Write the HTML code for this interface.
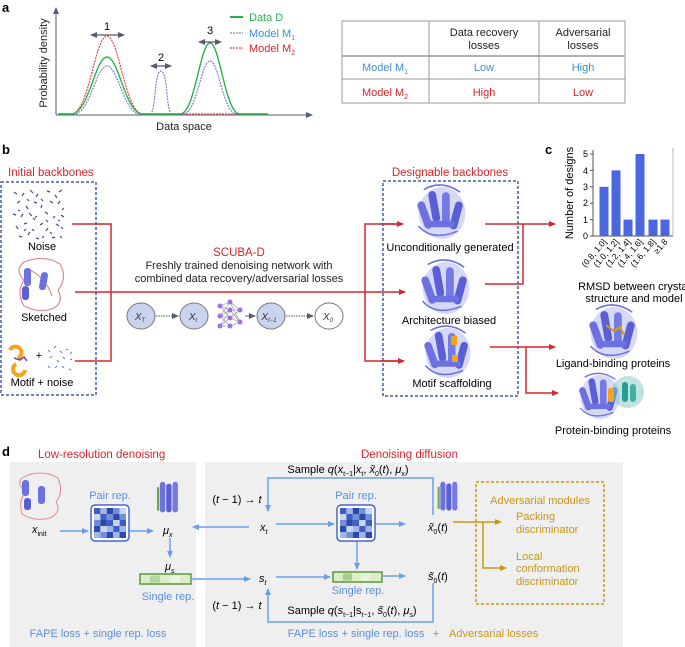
<!DOCTYPE html>
<html><head><meta charset="utf-8"><style>
html,body{margin:0;padding:0;background:#fff;}
svg{display:block;font-family:"Liberation Sans",sans-serif;}
</style></head><body>
<svg width="685" height="647" viewBox="0 0 685 647" xmlns="http://www.w3.org/2000/svg">
<defs>
<marker id="ar" markerWidth="8" markerHeight="8" refX="6" refY="3" orient="auto" markerUnits="userSpaceOnUse"><path d="M0,0 L7,3 L0,6 z" fill="#d7262b"/></marker>
<marker id="ab" markerWidth="8" markerHeight="8" refX="6" refY="3" orient="auto" markerUnits="userSpaceOnUse"><path d="M0,0 L7,3 L0,6 z" fill="#6c9fe8"/></marker>
<marker id="ag" markerWidth="8" markerHeight="8" refX="6" refY="3" orient="auto" markerUnits="userSpaceOnUse"><path d="M0,0 L7,3 L0,6 z" fill="#c9961a"/></marker>
<marker id="ak" markerWidth="8" markerHeight="8" refX="6" refY="3" orient="auto" markerUnits="userSpaceOnUse"><path d="M0,0 L7,3 L0,6 z" fill="#555d6e"/></marker>
<marker id="aks" markerWidth="8" markerHeight="8" refX="1" refY="3" orient="auto" markerUnits="userSpaceOnUse"><path d="M7,0 L0,3 L7,6 z" fill="#555d6e"/></marker>
<g id="prot">
<ellipse cx="0" cy="0" rx="18" ry="20" fill="#8a8ee8" opacity="0.35"/>
<rect x="-16" y="-14" width="6" height="22" rx="3" fill="#6d70e0" transform="rotate(-20)"/>
<rect x="-8" y="-18" width="6" height="24" rx="3" fill="#5b5fd6" transform="rotate(-10)"/>
<rect x="0" y="-16" width="6" height="26" rx="3" fill="#7579e6"/>
<rect x="8" y="-12" width="6" height="22" rx="3" fill="#5b5fd6" transform="rotate(15)"/>
<rect x="-12" y="6" width="22" height="5" rx="2.5" fill="#6d70e0"/>
<path d="M-18,10 q10,12 30,4 M-14,-18 q14,-8 28,2" stroke="#6d70e0" fill="none" stroke-width="1.2"/>
</g>
<g id="hel">
<rect x="-9" y="-18" width="6" height="34" rx="3" fill="#6d70e0"/>
<rect x="-2" y="-16" width="6" height="32" rx="3" fill="#5b5fd6"/>
<rect x="5" y="-18" width="6" height="34" rx="3" fill="#7579e6"/>
<path d="M-11,-12 L-11,14" stroke="#6aa84f" stroke-width="2.5"/>
</g>
</defs>

<!-- ===== Panel a ===== -->
<text x="2" y="12" font-size="13" font-weight="bold">a</text>
<line x1="56" y1="115" x2="56" y2="8" stroke="#555d6e" stroke-width="1" marker-end="url(#ak)"/>
<line x1="56" y1="115" x2="312" y2="115" stroke="#555d6e" stroke-width="1" marker-end="url(#ak)"/>
<text transform="translate(47,63) rotate(-90)" font-size="11" text-anchor="middle" fill="#222">Probability density</text>
<text x="184" y="130" font-size="11" text-anchor="middle" fill="#222">Data space</text>
<path d="M58,114 L71,114 C89,114 95,36 107,36 C119,36 125,114 143,114 L268,114" fill="none" stroke="#e0474c" stroke-width="1.2" stroke-dasharray="2,1"/>
<path d="M58,114 L74,114 C90,114 96,66 107,66 C118,66 124,114 140,114 C144,114 147,114 150,114 C156,114 154,71 161,71 C168,71 166,114 172,114 C178,114 182,114 183,114 C197,114 201,61 210,61 C219,61 223,114 237,114 L268,114" fill="none" stroke="#7a86c8" stroke-width="1.2" stroke-dasharray="2,1"/>
<path d="M58,114 L71,114 C89,114 95,57 107,57 C119,57 125,114 143,114 L180,114 C195,114 200,43 210,43 C220,43 225,114 240,114 L268,114" fill="none" stroke="#27b34b" stroke-width="1.4"/>
<g stroke="#555d6e" stroke-width="1.2">
<line x1="91" y1="35" x2="124" y2="35" marker-end="url(#ak)" marker-start="url(#aks)"/>
<line x1="151" y1="66" x2="171" y2="66" marker-end="url(#ak)" marker-start="url(#aks)"/>
<line x1="199" y1="42" x2="221" y2="42" marker-end="url(#ak)" marker-start="url(#aks)"/>
</g>
<text x="107" y="30" font-size="11" text-anchor="middle">1</text>
<text x="161" y="61" font-size="11" text-anchor="middle">2</text>
<text x="210" y="34" font-size="11" text-anchor="middle">3</text>
<line x1="230" y1="17" x2="243" y2="17" stroke="#27b34b" stroke-width="2"/>
<text x="249" y="21" font-size="11" fill="#27b34b">Data D</text>
<line x1="230" y1="33" x2="243" y2="33" stroke="#7a86c8" stroke-width="1.2" stroke-dasharray="2,1"/>
<text x="249" y="37" font-size="11" fill="#3b8fd6">Model M<tspan font-size="7" dy="3">1</tspan></text>
<line x1="230" y1="48" x2="243" y2="48" stroke="#e0474c" stroke-width="1.2" stroke-dasharray="2,1"/>
<text x="249" y="52" font-size="11" fill="#d7262b">Model M<tspan font-size="7" dy="3">2</tspan></text>
<g stroke="#999" stroke-width="1" fill="none">
<rect x="342" y="21" width="283" height="82"/>
<line x1="429" y1="21" x2="429" y2="103"/>
<line x1="539" y1="21" x2="539" y2="103"/>
<line x1="342" y1="56" x2="625" y2="56" stroke-width="1.6"/>
<line x1="342" y1="79" x2="625" y2="79"/>
</g>
<g font-size="11" text-anchor="middle">
<text x="484" y="36" fill="#222">Data recovery</text><text x="484" y="49" fill="#222">losses</text>
<text x="583" y="36" fill="#222">Adversarial</text><text x="583" y="49" fill="#222">losses</text>
<text x="385" y="71" fill="#3b8fd6">Model M<tspan font-size="7" dy="3">1</tspan></text>
<text x="484" y="71" fill="#3b8fd6">Low</text><text x="583" y="71" fill="#3b8fd6">High</text>
<text x="385" y="96" fill="#d7262b">Model M<tspan font-size="7" dy="3">2</tspan></text>
<text x="484" y="96" fill="#d7262b">High</text><text x="583" y="96" fill="#d7262b">Low</text>
</g>

<!-- ===== Panel b ===== -->
<text x="2" y="154" font-size="13" font-weight="bold">b</text>
<text x="8" y="176" font-size="11.5" fill="#d7262b">Initial backbones</text>
<rect x="1" y="182" width="95" height="213" fill="none" stroke="#3f5fa8" stroke-width="1.5" stroke-dasharray="3,2"/>
<g stroke="#3f4f8a" stroke-width="1.2">
<path d="M14,192 l3,2 M22,196 l2,-3 M30,190 l3,3 M38,194 l-2,3 M47,191 l3,1 M55,195 l2,3 M62,190 l-3,2 M17,203 l3,-2 M26,206 l2,3 M34,202 l3,1 M42,205 l-1,3 M50,201 l3,2 M58,204 l2,-3 M64,208 l-2,2 M13,214 l3,1 M21,217 l2,-3 M29,213 l3,3 M37,216 l-2,2 M45,212 l3,2 M53,218 l2,-2 M61,215 l3,2 M16,226 l2,3 M24,224 l3,-1 M32,229 l2,2 M40,225 l3,-2 M48,228 l-2,3 M56,224 l3,2 M63,229 l-2,-2 M19,236 l3,1 M28,235 l2,-3 M36,238 l3,1 M44,236 l-2,2 M52,238 l3,-1 M60,236 l2,2 M27,199 l2,2 M46,220 l2,2 M35,220 l-2,-2 M18,210 l2,1 M41,199 l2,2 M58,220 l2,1 M24,231 l2,-2 M50,232 l2,2"/>
</g>
<text x="42" y="250" font-size="11" text-anchor="middle">Noise</text>
<path d="M24,262 q20,-8 36,2 q8,14 -2,26 q6,12 -4,18 q-14,6 -30,-2 q-8,-14 0,-26 q-10,-10 0,-18z M30,270 q16,8 22,26" fill="none" stroke="#e08a8a" stroke-width="1.2"/>
<rect x="24" y="268" width="7" height="18" rx="3" fill="#6d70e0"/>
<rect x="22" y="286" width="7" height="14" rx="3" fill="#5b5fd6"/>
<rect x="40" y="272" width="7" height="18" rx="3" fill="#6d70e0" transform="rotate(10 43 281)"/>
<text x="44" y="321" font-size="11" text-anchor="middle">Sketched</text>
<path d="M10,350 a6,6 0 1 1 8,8 M16,364 a6,6 0 1 0 9,6" fill="none" stroke="#f2a51c" stroke-width="4"/>
<path d="M14,358 l6,2 l4,-3 l3,4" fill="none" stroke="#7a3fa0" stroke-width="1.5"/>
<text x="39" y="359" font-size="11" text-anchor="middle">+</text>
<g stroke="#6a78b8" stroke-width="1"><path d="M48,350 l2,2 M54,348 l2,-2 M60,351 l2,2 M66,349 l2,1 M72,352 l-2,2 M50,358 l2,-2 M57,360 l2,2 M63,357 l2,2 M70,360 l2,-1 M48,366 l2,2 M55,368 l2,-2 M62,366 l2,2 M69,369 l2,1"/></g>
<text x="42" y="386" font-size="11" text-anchor="middle">Motif + noise</text>
<g stroke="#d7262b" stroke-width="1.5" fill="none">
<path d="M72,224 L111,224 L111,361 L75,361"/>
<line x1="75" y1="292" x2="405" y2="292" marker-end="url(#ar)"/>
<path d="M402,224 L365,224 L365,361 L402,361"/>
<line x1="380" y1="224" x2="403" y2="224" marker-end="url(#ar)"/>
<line x1="380" y1="361" x2="404" y2="361" marker-end="url(#ar)"/>
</g>
<text x="239" y="256" font-size="11.5" text-anchor="middle" fill="#d7262b">SCUBA-D</text>
<text x="239" y="269" font-size="11" text-anchor="middle" fill="#222">Freshly trained denoising network with</text>
<text x="239" y="282" font-size="11" text-anchor="middle" fill="#222">combined data recovery/adversarial losses</text>
<g stroke="#777" stroke-width="1">
<ellipse cx="141" cy="316" rx="14" ry="13" fill="#c9d5ee"/>
<ellipse cx="194" cy="316" rx="14" ry="13" fill="#c9d5ee"/>
<ellipse cx="271" cy="316" rx="14" ry="13" fill="#c9d5ee"/>
<ellipse cx="329" cy="316" rx="14" ry="13" fill="#fff"/>
</g>
<g stroke="#555d6e" stroke-width="1" stroke-dasharray="1.5,1">
<line x1="156" y1="316" x2="178" y2="316" marker-end="url(#ak)"/>
<line x1="286" y1="316" x2="313" y2="316" marker-end="url(#ak)"/>
</g>
<line x1="245" y1="316" x2="255" y2="316" stroke="#555d6e" marker-end="url(#ak)"/>
<g stroke="#889" stroke-width="0.6">
<path d="M220,306 L230,302 M220,306 L230,310 M220,306 L230,318 M220,316 L230,302 M220,316 L230,310 M220,316 L230,318 M220,316 L230,326 M220,326 L230,318 M220,326 L230,326 M220,326 L230,310 M230,302 L240,310 M230,310 L240,310 M230,318 L240,310 M230,310 L240,322 M230,318 L240,322 M230,326 L240,322 M230,302 L240,322"/>
</g>
<g fill="#a36ee8"><circle cx="220" cy="306" r="2.5"/><circle cx="220" cy="316" r="2.5"/><circle cx="220" cy="326" r="2.5"/><circle cx="230" cy="302" r="2.5"/><circle cx="230" cy="310" r="2.5"/><circle cx="230" cy="318" r="2.5"/><circle cx="230" cy="326" r="2.5"/><circle cx="240" cy="310" r="2.5"/><circle cx="240" cy="322" r="2.5"/></g>
<g font-size="10" font-style="italic" text-anchor="middle" fill="#333">
<text x="140" y="320">X<tspan font-size="6" dy="2">T</tspan></text>
<text x="193" y="320">X<tspan font-size="6" dy="2">t</tspan></text>
<text x="269" y="320">X<tspan font-size="6" dy="2">t−1</tspan></text>
<text x="328" y="320">X<tspan font-size="6" dy="2">0</tspan></text>
</g>
<text x="450" y="176" font-size="11.5" text-anchor="middle" fill="#d7262b">Designable backbones</text>
<rect x="383" y="181" width="135" height="215" fill="none" stroke="#3f5fa8" stroke-width="1.5" stroke-dasharray="3,2"/>
<use href="#prot" transform="translate(442,213) scale(1.3)"/>
<text x="450" y="251" font-size="11" text-anchor="middle">Unconditionally generated</text>
<use href="#prot" transform="translate(446,288) scale(1.3)"/>
<text x="449" y="324" font-size="11" text-anchor="middle">Architecture biased</text>
<use href="#prot" transform="translate(448,353) scale(1.25)"/>
<rect x="451" y="336" width="6" height="9" fill="#f2a51c"/><rect x="452" y="355" width="6" height="7" fill="#f2a51c"/>
<text x="452" y="387" font-size="11" text-anchor="middle">Motif scaffolding</text>
<g stroke="#d7262b" stroke-width="1.5" fill="none">
<path d="M485,224 L523,224 L523,284 L485,284"/>
<line x1="523" y1="224" x2="555" y2="224" marker-end="url(#ar)"/>
<path d="M490,347 L526,347 L526,393 L558,393" marker-end="url(#ar)"/>
<line x1="526" y1="347" x2="555" y2="347" marker-end="url(#ar)"/>
</g>

<!-- ===== Panel c ===== -->
<text x="545" y="154" font-size="13" font-weight="bold">c</text>
<text transform="translate(573,193) rotate(-90)" font-size="11" text-anchor="middle">Number of designs</text>
<g stroke="#555" stroke-width="1">
<line x1="593" y1="150" x2="593" y2="236"/>
<line x1="593" y1="236" x2="673" y2="236"/>
<line x1="673" y1="148" x2="673" y2="236" stroke="#bbb"/>
<line x1="590" y1="236" x2="593" y2="236"/><line x1="590" y1="219.6" x2="593" y2="219.6"/><line x1="590" y1="203.2" x2="593" y2="203.2"/><line x1="590" y1="186.8" x2="593" y2="186.8"/><line x1="590" y1="170.4" x2="593" y2="170.4"/><line x1="590" y1="154" x2="593" y2="154"/>
</g>
<g font-size="9" text-anchor="end"><text x="588" y="239">0</text><text x="588" y="223">1</text><text x="588" y="206">2</text><text x="588" y="190">3</text><text x="588" y="174">4</text><text x="588" y="157">5</text></g>
<g fill="#4a67e0">
<rect x="599.5" y="186.8" width="9" height="49.2"/>
<rect x="611.5" y="170.4" width="9" height="65.6"/>
<rect x="623.5" y="219.6" width="9" height="16.4"/>
<rect x="635.5" y="154" width="9" height="82"/>
<rect x="648.5" y="219.6" width="9" height="16.4"/>
<rect x="660.5" y="219.6" width="9" height="16.4"/>
</g>
<g font-size="8.5" text-anchor="end">
<text transform="translate(607,242) rotate(-50)">(0.8, 1.0]</text>
<text transform="translate(619,242) rotate(-50)">(1.0, 1.2]</text>
<text transform="translate(631,242) rotate(-50)">(1.2, 1.4]</text>
<text transform="translate(643,242) rotate(-50)">(1.4, 1.6]</text>
<text transform="translate(656,242) rotate(-50)">(1.6, 1.8]</text>
<text transform="translate(668,242) rotate(-50)">≥1.8</text>
</g>
<text x="634" y="290" font-size="11" text-anchor="middle">RMSD between crystal</text>
<text x="634" y="302" font-size="11" text-anchor="middle">structure and model</text>
<use href="#prot" transform="translate(614,333) scale(1.3)"/>
<path d="M606,325 l8,6 l6,-4 l4,8" stroke="#d49a1a" stroke-width="2" fill="none"/>
<text x="613" y="367" font-size="11" text-anchor="middle">Ligand-binding proteins</text>
<use href="#prot" transform="translate(600,397) scale(1.1)"/>
<g transform="translate(628,392)"><ellipse rx="16" ry="16" fill="#7fc8c0" opacity="0.5"/><rect x="-6" y="-10" width="6" height="20" rx="3" fill="#2a9b8f"/><rect x="2" y="-8" width="6" height="18" rx="3" fill="#3fb0a3"/></g>
<rect x="608" y="388" width="6" height="14" rx="2" fill="#f2a51c"/>
<text x="613" y="434" font-size="11" text-anchor="middle">Protein-binding proteins</text>

<!-- ===== Panel d ===== -->
<text x="2" y="456" font-size="13" font-weight="bold">d</text>
<text x="38" y="458" font-size="11.5" fill="#d7262b">Low-resolution denoising</text>
<text x="361" y="458" font-size="11.5" fill="#d7262b">Denoising diffusion</text>
<rect x="10" y="462" width="186" height="185" fill="#efefef"/>
<rect x="205" y="462" width="418" height="185" fill="#efefef"/>
<path d="M22,478 q18,-10 36,0 q6,14 -2,24 q6,10 -6,16 q-16,4 -28,-4 q-4,-14 4,-22 q-10,-8 -4,-14z" fill="none" stroke="#e08a8a" stroke-width="1"/>
<rect x="22" y="480" width="7" height="16" rx="3" fill="#6d70e0"/><rect x="24" y="498" width="7" height="12" rx="3" fill="#5b5fd6"/>
<rect x="38" y="486" width="7" height="18" rx="3" fill="#6d70e0"/>
<text x="32" y="533" font-size="11" font-style="italic">x<tspan font-size="7" dy="3" font-style="normal">init</tspan></text>
<g id="pair1">
<rect x="91" y="505" width="38" height="36" rx="4" fill="#fff" stroke="#4a67c8" stroke-width="1.5"/>
</g>
<g id="mat">
<rect x="94" y="508" width="6.4" height="6" fill="#3e5fbf"/><rect x="100.4" y="508" width="6.4" height="6" fill="#9fb5e8"/><rect x="106.8" y="508" width="6.4" height="6" fill="#2b4aa8"/><rect x="113.2" y="508" width="6.4" height="6" fill="#6f8fda"/><rect x="119.6" y="508" width="6.4" height="6" fill="#c7d4f2"/>
<rect x="94" y="514" width="6.4" height="6" fill="#c7d4f2"/><rect x="100.4" y="514" width="6.4" height="6" fill="#3e5fbf"/><rect x="106.8" y="514" width="6.4" height="6" fill="#6f8fda"/><rect x="113.2" y="514" width="6.4" height="6" fill="#2b4aa8"/><rect x="119.6" y="514" width="6.4" height="6" fill="#6f8fda"/>
<rect x="94" y="520" width="6.4" height="6" fill="#6f8fda"/><rect x="100.4" y="520" width="6.4" height="6" fill="#2b4aa8"/><rect x="106.8" y="520" width="6.4" height="6" fill="#3e5fbf"/><rect x="113.2" y="520" width="6.4" height="6" fill="#c7d4f2"/><rect x="119.6" y="520" width="6.4" height="6" fill="#3e5fbf"/>
<rect x="94" y="526" width="6.4" height="6" fill="#2b4aa8"/><rect x="100.4" y="526" width="6.4" height="6" fill="#c7d4f2"/><rect x="106.8" y="526" width="6.4" height="6" fill="#9fb5e8"/><rect x="113.2" y="526" width="6.4" height="6" fill="#3e5fbf"/><rect x="119.6" y="526" width="6.4" height="6" fill="#9fb5e8"/>
<rect x="94" y="532" width="6.4" height="6" fill="#9fb5e8"/><rect x="100.4" y="532" width="6.4" height="6" fill="#6f8fda"/><rect x="106.8" y="532" width="6.4" height="6" fill="#2b4aa8"/><rect x="113.2" y="532" width="6.4" height="6" fill="#9fb5e8"/><rect x="119.6" y="532" width="6.4" height="6" fill="#2b4aa8"/>
</g>
<text x="110" y="499" font-size="11" text-anchor="middle" fill="#5a8fdc">Pair rep.</text>
<use href="#hel" transform="translate(168,498) scale(0.9)"/>
<text x="163" y="534" font-size="11" font-style="italic">μ<tspan font-size="7" dy="3">x</tspan></text>
<g stroke="#6c9fe8" stroke-width="1.5" fill="none">
<line x1="60" y1="531" x2="88" y2="531" marker-end="url(#ab)"/>
<line x1="130" y1="531" x2="153" y2="531" marker-end="url(#ab)"/>
<line x1="170" y1="538" x2="170" y2="557" marker-end="url(#ab)"/>
<line x1="192" y1="579" x2="250" y2="579" marker-end="url(#ab)"/>
<line x1="249" y1="527" x2="193" y2="527" marker-end="url(#ab)"/>
<line x1="276" y1="524" x2="334" y2="524" marker-end="url(#ab)"/>
<line x1="372" y1="524" x2="405" y2="524" marker-end="url(#ab)"/>
<line x1="357" y1="541" x2="357" y2="569" marker-end="url(#ab)"/>
<line x1="276" y1="577" x2="330" y2="577" marker-end="url(#ab)"/>
<line x1="383" y1="576" x2="405" y2="576" marker-end="url(#ab)"/>
<path d="M433,515 L433,478 L268,478 L268,511" marker-end="url(#ab)"/>
<path d="M433,583 L433,622 L268,622 L268,589" marker-end="url(#ab)"/>
</g>
<text x="165" y="570" font-size="11" font-style="italic">μ<tspan font-size="7" dy="3">s</tspan></text>
<rect x="140" y="574" width="51" height="10" fill="#dbeec9" stroke="#5a9a3a" stroke-width="1.5"/>
<rect x="150" y="575.5" width="10" height="7" fill="#b7d69c"/><rect x="170" y="575.5" width="10" height="7" fill="#eaf5df"/>
<text x="168" y="600" font-size="11" text-anchor="middle" fill="#5a8fdc">Single rep.</text>
<text x="98" y="637" font-size="11" text-anchor="middle" fill="#5a8fdc">FAPE loss + single rep. loss</text>
<text x="348" y="473" font-size="11" text-anchor="middle">Sample <tspan font-style="italic">q</tspan>(<tspan font-style="italic">x</tspan><tspan font-size="7" dy="3">t−1</tspan><tspan dy="-3">|</tspan><tspan font-style="italic">x</tspan><tspan font-size="7" dy="3">t</tspan><tspan dy="-3">, </tspan><tspan font-style="italic">x̃</tspan><tspan font-size="7" dy="3">0</tspan><tspan dy="-3">(</tspan><tspan font-style="italic">t</tspan>), <tspan font-style="italic">μ</tspan><tspan font-size="7" dy="3">x</tspan><tspan dy="-3">)</tspan></text>
<text x="237" y="503" font-size="11" text-anchor="middle">(<tspan font-style="italic">t</tspan> − 1) → <tspan font-style="italic">t</tspan></text>
<text x="260" y="531" font-size="11" font-style="italic">x<tspan font-size="7" dy="3">t</tspan></text>
<text x="356" y="499" font-size="11" text-anchor="middle" fill="#5a8fdc">Pair rep.</text>
<use href="#pair1" transform="translate(246,0)"/>
<use href="#mat" transform="translate(246,0)"/>
<use href="#hel" transform="translate(448,497) scale(0.85)"/>
<text x="428" y="531" font-size="11" font-style="italic">x̃<tspan font-size="7" dy="3" font-style="normal">0</tspan><tspan dy="-3" font-style="normal">(</tspan>t<tspan font-style="normal">)</tspan></text>
<text x="259" y="582" font-size="11" font-style="italic">s<tspan font-size="7" dy="3">t</tspan></text>
<rect x="333" y="572" width="49" height="10" fill="#dbeec9" stroke="#5a9a3a" stroke-width="1.5"/>
<rect x="343" y="573.5" width="9" height="7" fill="#a9cc8c"/><rect x="361" y="573.5" width="9" height="7" fill="#eaf5df"/>
<text x="428" y="580" font-size="11" font-style="italic">s̃<tspan font-size="7" dy="3" font-style="normal">0</tspan><tspan dy="-3" font-style="normal">(</tspan>t<tspan font-style="normal">)</tspan></text>
<text x="358" y="594" font-size="11" text-anchor="middle" fill="#5a8fdc">Single rep.</text>
<text x="237" y="609" font-size="11" text-anchor="middle">(<tspan font-style="italic">t</tspan> − 1) → <tspan font-style="italic">t</tspan></text>
<text x="352" y="614" font-size="11" text-anchor="middle">Sample <tspan font-style="italic">q</tspan>(<tspan font-style="italic">s</tspan><tspan font-size="7" dy="3">t−1</tspan><tspan dy="-3">|s</tspan><tspan font-size="7" dy="3">t−1</tspan><tspan dy="-3">, </tspan><tspan font-style="italic">s̃</tspan><tspan font-size="7" dy="3">0</tspan><tspan dy="-3">(</tspan><tspan font-style="italic">t</tspan>), <tspan font-style="italic">μ</tspan><tspan font-size="7" dy="3">s</tspan><tspan dy="-3">)</tspan></text>
<text x="356" y="637" font-size="11" text-anchor="middle" fill="#5a8fdc">FAPE loss + single rep. loss</text>
<text x="436" y="637" font-size="11" text-anchor="middle" fill="#5a8fdc">+</text>
<text x="449" y="637" font-size="11" fill="#c9961a">Adversarial losses</text>
<rect x="476" y="482" width="128" height="122" fill="none" stroke="#c9961a" stroke-width="1.5" stroke-dasharray="3,2"/>
<text x="540" y="504" font-size="11" text-anchor="middle" fill="#c9961a">Adversarial modules</text>
<g stroke="#c9961a" stroke-width="1.5" fill="none">
<line x1="453" y1="522" x2="501" y2="522" marker-end="url(#ag)"/>
<path d="M483,522 L483,568 L506,568" marker-end="url(#ag)"/>
</g>
<g font-size="11" fill="#c9961a">
<text x="516" y="520">Packing</text><text x="516" y="533">discriminator</text>
<text x="516" y="560">Local</text><text x="516" y="572">conformation</text><text x="516" y="585">discriminator</text>
</g>
</svg>
</body></html>
